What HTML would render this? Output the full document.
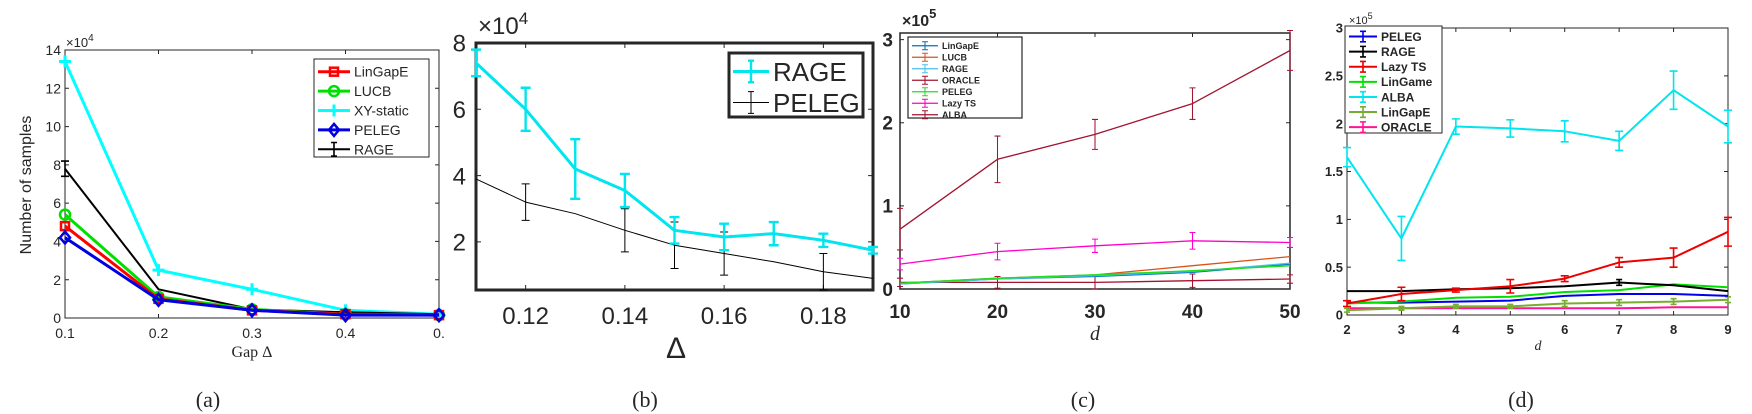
<!DOCTYPE html>
<html><head><meta charset="utf-8">
<style>
html,body{margin:0;padding:0;background:#fff;}
svg{display:block;}
text{font-family:"Liberation Sans","DejaVu Sans",sans-serif;fill:#262626;}
.serif{font-family:"Liberation Serif",serif;}
</style></head>
<body>
<svg id="fig" width="1752" height="414" viewBox="0 0 1752 414" xmlns="http://www.w3.org/2000/svg"></svg>
<script>
// ---- Panel (a) data ----
const aX = [0.1, 0.2, 0.3, 0.4, 0.5];
const aXY = [13.4, 2.5, 1.5, 0.4, 0.2];
const aRAGE = [7.8, 1.5, 0.45, 0.3, 0.2];
const aLUCB = [5.4, 1.1, 0.45, 0.2, 0.15];
const aLinGapE = [4.8, 1.0, 0.4, 0.2, 0.15];
const aPELEG = [4.2, 0.95, 0.4, 0.15, 0.15];
const aXTicks = ["0.1", "0.2", "0.3", "0.4", "0."];
const aYTicks = [0, 2, 4, 6, 8, 10, 12, 14];
// ---- Panel (b) data ----
const bX = [0.11, 0.12, 0.13, 0.14, 0.15, 0.16, 0.17, 0.18, 0.19];
const bRAGE = [7.4, 6.0, 4.2, 3.55, 2.35, 2.15, 2.25, 2.05, 1.75];
const bRAGEErr = [0.4, 0.65, 0.9, 0.5, 0.4, 0.4, 0.35, 0.2, 0.1];
const bPELEG = [3.9, 3.2, 2.85, 2.35, 1.9, 1.65, 1.4, 1.1, 0.9];
const bPELEGErr = [0, 0.55, 0, 0.65, 0.7, 0.65, 0, 0.55, 0];
const bXTicks = [0.12, 0.14, 0.16, 0.18];
const bYTicks = [2, 4, 6, 8];
// ---- Panel (c) data ----
const cX = [10, 20, 30, 40, 50];
const cALBA = [0.72, 1.56, 1.86, 2.23, 2.87];
const cALBAErr = [0.25, 0.28, 0.18, 0.19, 0.24];
const cLazy = [0.3, 0.45, 0.52, 0.58, 0.56];
const cLazyErr = [0.07, 0.1, 0.08, 0.1, 0.06];
const cLUCB = [0.07, 0.13, 0.17, 0.28, 0.39];
const cLinGapE = [0.06, 0.12, 0.15, 0.2, 0.3];
const cRAGE = [0.06, 0.12, 0.16, 0.21, 0.31];
const cPELEG = [0.07, 0.13, 0.17, 0.22, 0.28];
const cORACLE = [0.08, 0.08, 0.08, 0.1, 0.12];
const cORACLEErr = [0.05, 0.07, 0.08, 0.08, 0.05];
const cXTicks = [10, 20, 30, 40, 50];
const cYTicks = [0, 1, 2, 3];
// ---- Panel (d) data ----
const dX = [2, 3, 4, 5, 6, 7, 8, 9];
const dALBA = [1.65, 0.8, 1.97, 1.95, 1.92, 1.82, 2.35, 1.97];
const dALBAErr = [0.1, 0.23, 0.08, 0.09, 0.11, 0.1, 0.2, 0.17];
const dLazy = [0.12, 0.22, 0.26, 0.3, 0.38, 0.55, 0.6, 0.87];
const dLazyErr = [0.03, 0.07, 0.02, 0.07, 0.03, 0.05, 0.1, 0.15];
const dRAGE = [0.25, 0.25, 0.27, 0.28, 0.3, 0.34, 0.31, 0.25];
const dLinGame = [0.12, 0.14, 0.18, 0.19, 0.24, 0.26, 0.32, 0.29];
const dPELEG = [0.13, 0.13, 0.14, 0.15, 0.2, 0.22, 0.22, 0.2];
const dLinGapE = [0.05, 0.07, 0.09, 0.09, 0.12, 0.13, 0.14, 0.16];
const dORACLE = [0.07, 0.07, 0.07, 0.07, 0.07, 0.07, 0.08, 0.08];
const dXTicks = [2, 3, 4, 5, 6, 7, 8, 9];
const dYTicks = [0, 0.5, 1, 1.5, 2, 2.5, 3];

const NS = "http://www.w3.org/2000/svg";
const svg = document.getElementById("fig");
function mk(tag, attrs, parent, txt) {
  const e = document.createElementNS(NS, tag);
  for (const k in attrs) e.setAttribute(k, attrs[k]);
  if (txt !== undefined) e.textContent = txt;
  (parent || svg).appendChild(e);
  return e;
}
function scale(d0, d1, r0, r1) { return v => r0 + (v - d0) / (d1 - d0) * (r1 - r0); }

function series(g, xs, ys, sx, sy, color, w, name, errs, capW, marker) {
  const pts = xs.map((x, i) => sx(x).toFixed(1) + "," + sy(ys[i]).toFixed(1)).join(" ");
  const l = mk("polyline", { points: pts, fill: "none", stroke: color, "stroke-width": w, "stroke-linejoin": "round" }, g);
  
  
  xs.forEach((x, i) => {
    const cx = sx(x), cy = sy(ys[i]);
    if (errs && errs[i] > 0) {
      const y1 = sy(ys[i] + errs[i]), y2 = sy(ys[i] - errs[i]);
      const eb = mk("path", { d: `M${cx},${y1}V${y2}M${cx - capW},${y1}H${cx + capW}M${cx - capW},${y2}H${cx + capW}`, stroke: color, "stroke-width": Math.max(1, w * 0.8), fill: "none" }, g);
      
      
    }
    if (marker) {
      let m;
      if (marker === "square") m = mk("rect", { x: cx - 4, y: cy - 4, width: 8, height: 8, fill: "none", stroke: color, "stroke-width": 2.5 }, g);
      else if (marker === "circle") m = mk("circle", { cx: cx, cy: cy, r: 5, fill: "none", stroke: color, "stroke-width": 2.5 }, g);
      else if (marker === "diamond") m = mk("path", { d: `M${cx},${cy - 6}L${cx + 5},${cy}L${cx},${cy + 6}L${cx - 5},${cy}Z`, fill: "none", stroke: color, "stroke-width": 2.5 }, g);
      else if (marker === "plus") m = mk("path", { d: `M${cx - 6},${cy}H${cx + 6}M${cx},${cy - 6}V${cy + 6}`, stroke: color, "stroke-width": 3 }, g);
      if (m) {
        
        
      }
    }
  });
}

function legend(g, x, y, w, h, entries, fs, bold, rowH, lineLen, sw) {
  const b = mk("rect", { x: x, y: y, width: w, height: h, fill: "#fff", stroke: "#262626", "stroke-width": sw }, g);
  
  
  entries.forEach((e, i) => {
    const cy = y + rowH * (i + 0.5) + 3;
    const lg = mk("g", {}, g);
    
    
    mk("line", { x1: x + 4, x2: x + 4 + lineLen, y1: cy, y2: cy, stroke: e[1], "stroke-width": e[2] }, lg);
    const mx = x + 4 + lineLen / 2;
    if (e[3] === "err") mk("path", { d: `M${mx},${cy - rowH * 0.35}V${cy + rowH * 0.35}M${mx - 3},${cy - rowH * 0.35}H${mx + 3}M${mx - 3},${cy + rowH * 0.35}H${mx + 3}`, stroke: e[1], "stroke-width": Math.max(1, e[2] * 0.8), fill: "none" }, lg);
    else if (e[3] === "square") mk("rect", { x: mx - 4, y: cy - 4, width: 8, height: 8, fill: "none", stroke: e[1], "stroke-width": 2.5 }, lg);
    else if (e[3] === "circle") mk("circle", { cx: mx, cy: cy, r: 5, fill: "none", stroke: e[1], "stroke-width": 2.5 }, lg);
    else if (e[3] === "diamond") mk("path", { d: `M${mx},${cy - 6}L${mx + 5},${cy}L${mx},${cy + 6}L${mx - 5},${cy}Z`, fill: "none", stroke: e[1], "stroke-width": 2.5 }, lg);
    else if (e[3] === "plus") mk("path", { d: `M${mx - 6},${cy}H${mx + 6}M${mx},${cy - 6}V${cy + 6}`, stroke: e[1], "stroke-width": 3 }, lg);
    mk("text", { x: x + 8 + lineLen, y: cy + fs * 0.36, "font-size": fs, "font-weight": bold ? "bold" : "normal" }, lg, e[0]);
  });
}

function axes(g, L, T, R, B, sx, sy, xt, xtl, yt, ytl, opts) {
  const box = mk("rect", { x: L, y: T, width: R - L, height: B - T, fill: "none", stroke: "#262626", "stroke-width": opts.bw }, g);
  
  
  const xa = mk("g", {}, g);
  
  
  xt.forEach((v, i) => {
    const x = sx(v);
    mk("path", { d: `M${x},${B}v-${opts.tl}M${x},${T}v${opts.tl}`, stroke: "#262626", "stroke-width": 1 }, xa);
    mk("text", { x: x, y: opts.xly, "font-size": opts.fs, "font-weight": opts.bold ? "bold" : "normal", "text-anchor": "middle" }, xa, xtl[i]);
  });
  const ya = mk("g", {}, g);
  
  
  yt.forEach((v, i) => {
    const y = sy(v);
    mk("path", { d: `M${L},${y}h${opts.tl}M${R},${y}h-${opts.tl}`, stroke: "#262626", "stroke-width": 1 }, ya);
    mk("text", { x: opts.ylx, y: y + opts.fs * 0.36, "font-size": opts.fs, "font-weight": opts.bold ? "bold" : "normal", "text-anchor": "end" }, ya, ytl[i]);
  });
}

// ===== Panel (a) =====
(function () {
  const g = mk("g", {});
  
  
  const L = 65, T = 50, R = 439, B = 318;
  const sx = scale(0.1, 0.5, L, R), sy = scale(0, 14, B, T);
  axes(g, L, T, R, B, sx, sy, aX, aXTicks, aYTicks, aYTicks.map(String), { bw: 1, tl: 4, fs: 14, xly: 338, ylx: 61, bold: false });
  series(g, aX, aXY, sx, sy, "#00ffff", 3, "xy-static", null, 0, "plus");
  series(g, aX, aRAGE, sx, sy, "#000", 2, "rage-a", [0.4, 0, 0, 0, 0], 4, null);
  series(g, aX, aLUCB, sx, sy, "#00e000", 3, "lucb-a", null, 0, "circle");
  series(g, aX, aLinGapE, sx, sy, "#ff0000", 3, "lingape-a", null, 0, "square");
  series(g, aX, aPELEG, sx, sy, "#0000e0", 3, "peleg-a", null, 0, "diamond");
  legend(g, 314, 59, 115, 98, [["LinGapE", "#ff0000", 3, "square"], ["LUCB", "#00e000", 3, "circle"], ["XY-static", "#00ffff", 3, "plus"], ["PELEG", "#0000e0", 3, "diamond"], ["RAGE", "#000", 2, "err"]], 14, false, 19.4, 32, 1);
  const t1 = mk("text", { x: 66, y: 47, "font-size": 13 }, g, "×10");
  
  
  mk("tspan", { dy: -6, "font-size": 10 }, t1, "4");
  const yl = mk("text", { x: 0, y: 0, "font-size": 16, "text-anchor": "middle", transform: "translate(31,185) rotate(-90)" }, g, "Number of samples");
  
  
  const xl = mk("text", { x: 252, y: 357, "font-size": 16, "text-anchor": "middle", class: "serif", fill: "#555" }, g, "Gap Δ");
  
  
})();

// ===== Panel (b) =====
(function () {
  const g = mk("g", {});
  
  
  const L = 476, T = 43, R = 873, B = 290;
  const sx = scale(0.11, 0.19, L, R), sy = scale(0.55, 8, B, T);
  axes(g, L, T, R, B, sx, sy, bXTicks, bXTicks.map(v => v.toFixed(2)), bYTicks, bYTicks.map(String), { bw: 3, tl: 5, fs: 24, xly: 324, ylx: 466, bold: false });
  series(g, bX, bPELEG, sx, sy, "#000", 1, "peleg-b", bPELEGErr, 4, null);
  series(g, bX, bRAGE, sx, sy, "#00e5ee", 3, "rage-b", bRAGEErr, 5, null);
  legend(g, 729, 53, 134, 64, [["RAGE", "#00e5ee", 3, "err"], ["PELEG", "#000", 1, "err"]], 26, false, 31, 36, 3);
  const t1 = mk("text", { x: 478, y: 34, "font-size": 24 }, g, "×10");
  
  
  mk("tspan", { dy: -10, "font-size": 17 }, t1, "4");
  const xl = mk("text", { x: 676, y: 358, "font-size": 30, "text-anchor": "middle" }, g, "Δ");
  
  
})();

// ===== Panel (c) =====
(function () {
  const g = mk("g", {});
  
  
  const L = 900, T = 33, R = 1290, B = 289;
  const sx = scale(10, 50, L, R), sy = scale(0, 3.08, B, T);
  axes(g, L, T, R, B, sx, sy, cXTicks, cXTicks.map(String), cYTicks, cYTicks.map(String), { bw: 1.5, tl: 4, fs: 19, xly: 318, ylx: 893, bold: true });
  series(g, cX, cORACLE, sx, sy, "#a2142f", 1.3, "oracle-c", cORACLEErr, 3, null);
  series(g, cX, cLinGapE, sx, sy, "#0072bd", 1.3, "lingape-c", null, 3, null);
  series(g, cX, cLUCB, sx, sy, "#d95319", 1.3, "lucb-c", null, 3, null);
  series(g, cX, cRAGE, sx, sy, "#4dbeee", 1.3, "rage-c", null, 3, null);
  series(g, cX, cPELEG, sx, sy, "#22dd22", 1.5, "peleg-c", null, 3, null);
  series(g, cX, cLazy, sx, sy, "#ff00cc", 1.3, "lazy-ts-c", cLazyErr, 3, null);
  series(g, cX, cALBA, sx, sy, "#a2142f", 1.3, "alba-c", cALBAErr, 3, null);
  legend(g, 908, 37, 114, 81, [["LinGapE", "#0072bd", 1.3, "err"], ["LUCB", "#d95319", 1.3, "err"], ["RAGE", "#4dbeee", 1.3, "err"], ["ORACLE", "#a2142f", 1.3, "err"], ["PELEG", "#22dd22", 1.3, "err"], ["Lazy TS", "#ff00cc", 1.3, "err"], ["ALBA", "#a2142f", 1.3, "err"]], 9, true, 11.5, 26, 1.2);
  const t1 = mk("text", { x: 902, y: 26, "font-size": 16, "font-weight": "bold" }, g, "×10");
  
  
  mk("tspan", { dy: -8, "font-size": 13 }, t1, "5");
  const xl = mk("text", { x: 1095, y: 340, "font-size": 20, "text-anchor": "middle", class: "serif", "font-style": "italic", fill: "#555" }, g, "d");
  
  
})();

// ===== Panel (d) =====
(function () {
  const g = mk("g", {});
  
  
  const L = 1347, T = 28, R = 1728, B = 315;
  const sx = scale(2, 9, L, R), sy = scale(0, 3, B, T);
  axes(g, L, T, R, B, sx, sy, dXTicks, dXTicks.map(String), dYTicks, dYTicks.map(String), { bw: 1, tl: 4, fs: 13, xly: 334, ylx: 1343, bold: true });
  series(g, dX, dORACLE, sx, sy, "#ff1493", 2, "oracle-d", null, 3, null);
  series(g, dX, dLinGapE, sx, sy, "#77ac30", 2, "lingape-d", [0.02, 0.02, 0.02, 0.02, 0.03, 0.03, 0.03, 0.03], 3, null);
  series(g, dX, dPELEG, sx, sy, "#0000ee", 2, "peleg-d", null, 3, null);
  series(g, dX, dLinGame, sx, sy, "#00e000", 2, "lingame-d", null, 3, null);
  series(g, dX, dRAGE, sx, sy, "#000", 2, "rage-d", [0, 0, 0, 0, 0, 0.03, 0, 0], 3, null);
  series(g, dX, dLazy, sx, sy, "#ee0000", 2, "lazy-ts-d", dLazyErr, 4, null);
  series(g, dX, dALBA, sx, sy, "#00e5ee", 2, "alba-d", dALBAErr, 4, null);
  legend(g, 1345, 26, 97, 107, [["PELEG", "#0000ee", 2, "err"], ["RAGE", "#000", 2, "err"], ["Lazy TS", "#ee0000", 2, "err"], ["LinGame", "#00e000", 2, "err"], ["ALBA", "#00e5ee", 2, "err"], ["LinGapE", "#77ac30", 2, "err"], ["ORACLE", "#ff1493", 2, "err"]], 12, true, 15.1, 28, 1);
  const t1 = mk("text", { x: 1349, y: 24, "font-size": 11 }, g, "×10");
  
  
  mk("tspan", { dy: -5, "font-size": 9 }, t1, "5");
  const xl = mk("text", { x: 1538, y: 350, "font-size": 14, "text-anchor": "middle", class: "serif", "font-style": "italic", fill: "#555" }, g, "d");
  
  
})();

// ===== Captions =====
[["(a)", 208], ["(b)", 645], ["(c)", 1083], ["(d)", 1521]].forEach(c => {
  const t = mk("text", { x: c[1], y: 407, "font-size": 22, "text-anchor": "middle", class: "serif", fill: "#000" }, svg, c[0]);
  
  
});
</script>
</body></html>
